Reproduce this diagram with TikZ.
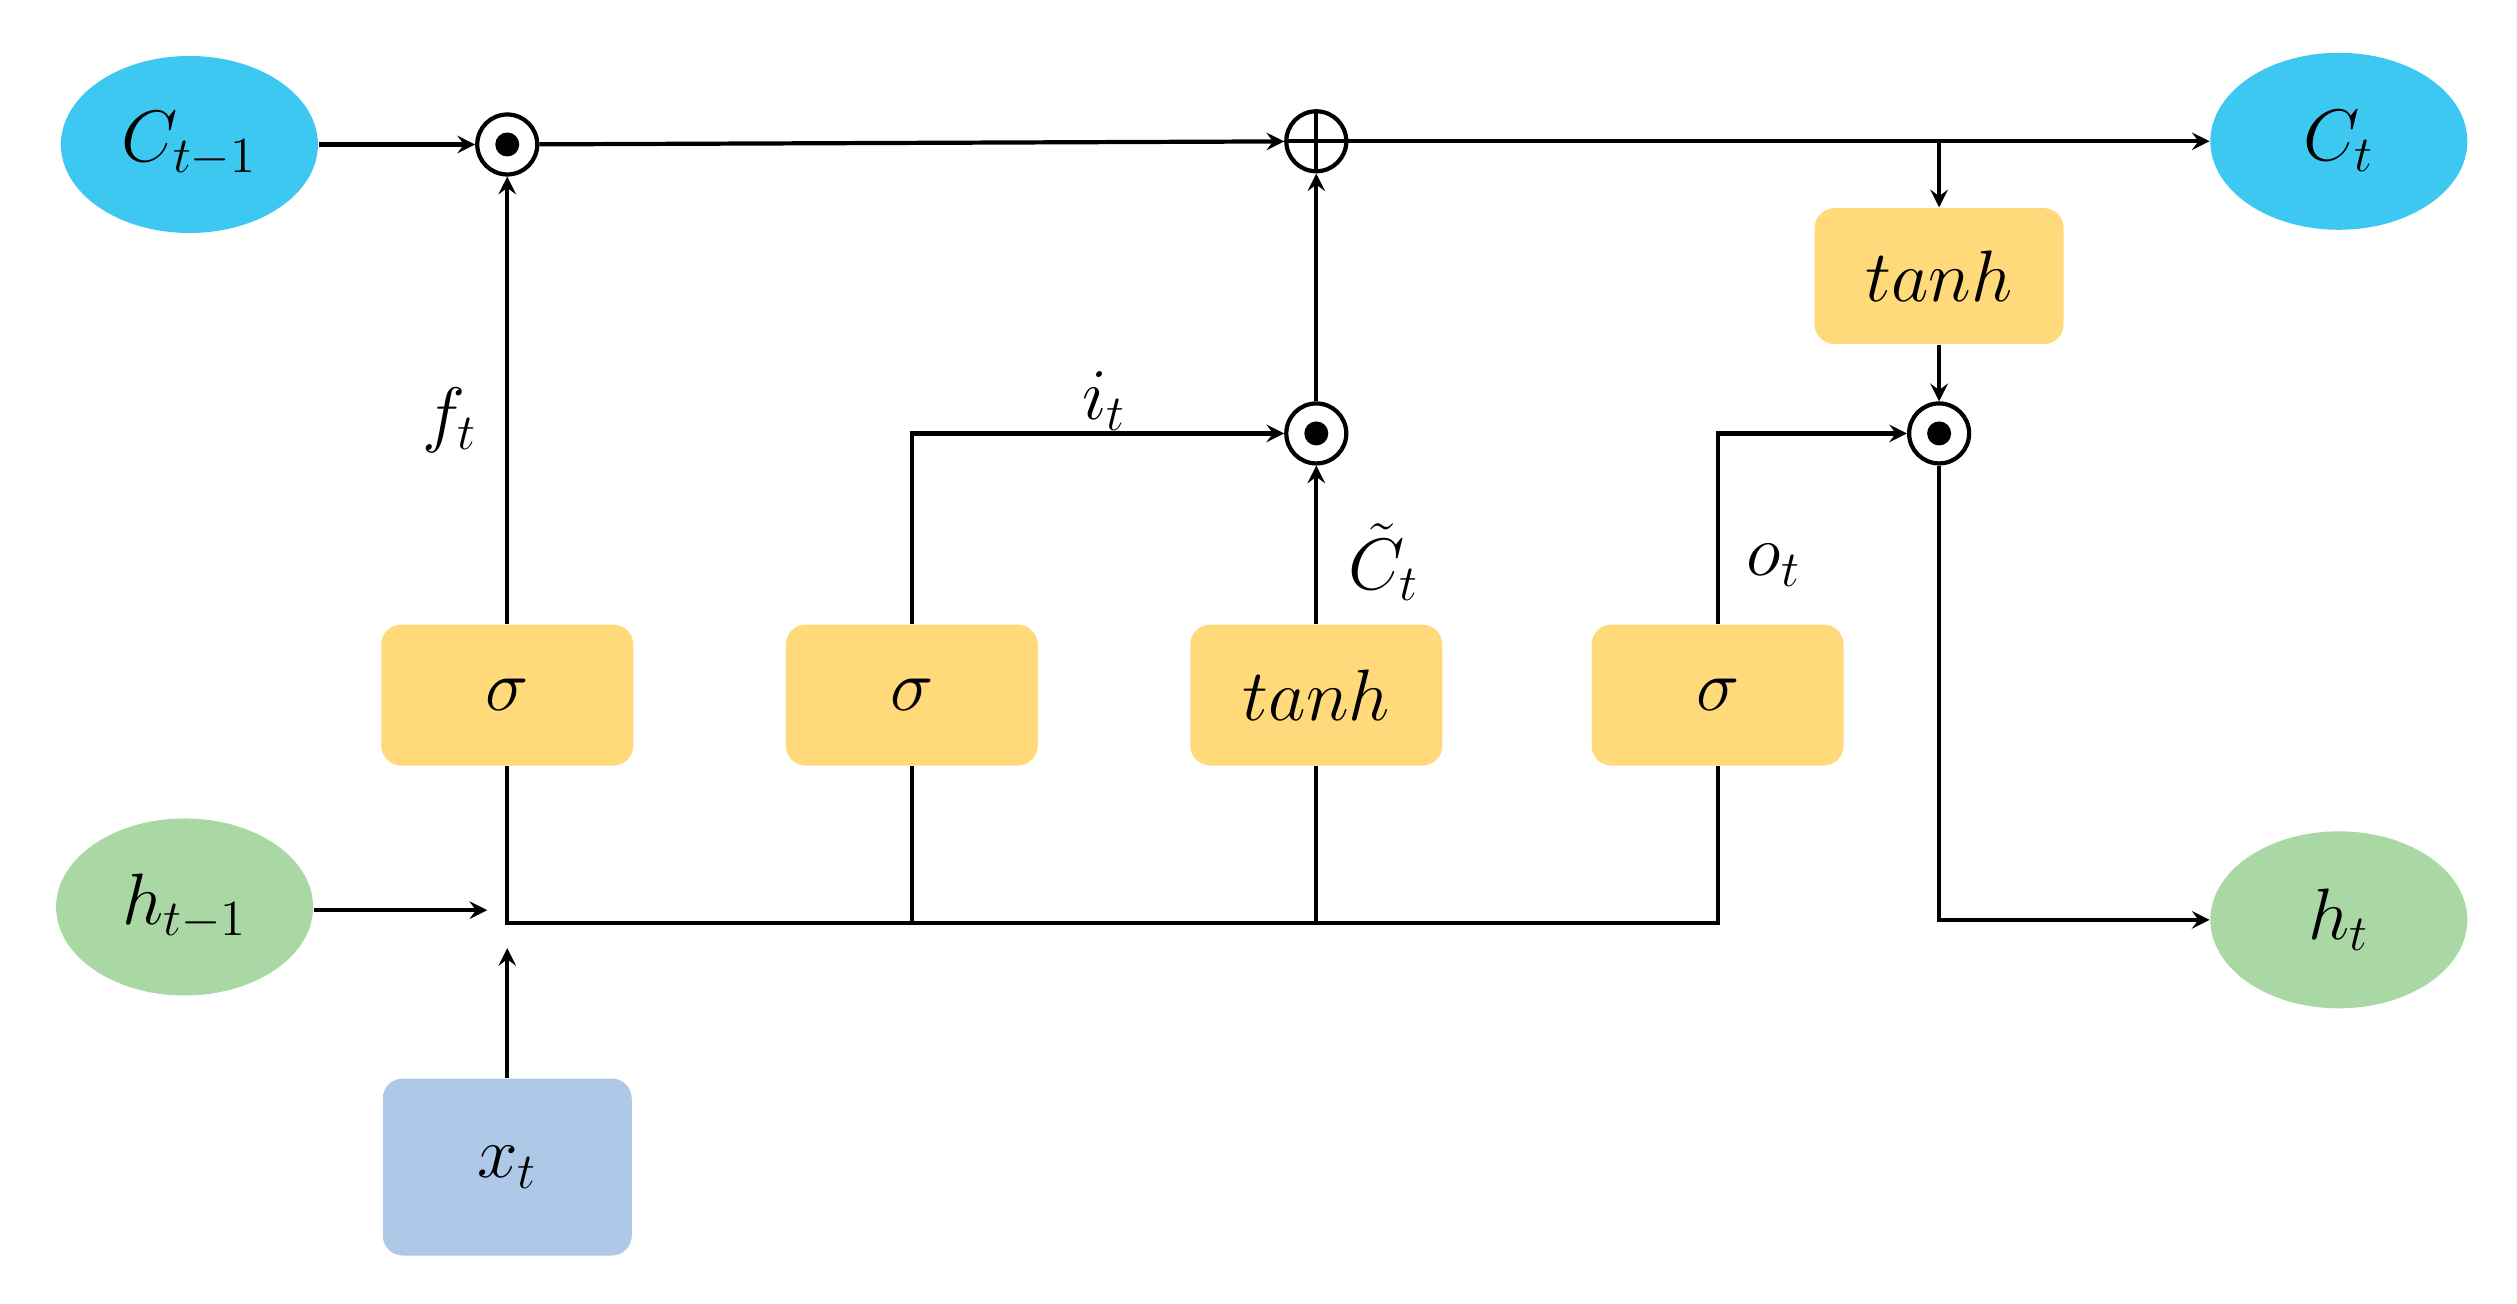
\documentclass[tikz,border=0pt]{standalone}
\usepackage{amsmath}
\usetikzlibrary{shapes.geometric, arrows, positioning}
\definecolor{gatecol}{HTML}{FFD97A}
\definecolor{cellcol}{HTML}{3CC8F0}
\definecolor{hidcol}{HTML}{A9D8A4}
\definecolor{incol}{HTML}{AEC8E8}
\tikzstyle{gate} = [rectangle, rounded corners=0.2cm, minimum width=2.52cm, minimum height=1.41cm, fill=gatecol, font=\fontsize{20}{24}\selectfont]
\tikzstyle{state} = [ellipse, minimum width=2.57cm, minimum height=1.77cm, font=\fontsize{20}{24}\selectfont]
\tikzstyle{mult} = [circle, draw, line width=1.2pt, fill=white, minimum size=0.6cm, inner sep=0pt]
\tikzstyle{add} = [circle, draw, line width=1.2pt, fill=white, minimum size=0.6cm, inner sep=0pt, path picture={\draw (path picture bounding box.north) -- (path picture bounding box.south); \draw (path picture bounding box.west) -- (path picture bounding box.east);}]
\tikzstyle{arrow} = [line width=1.2pt,-stealth]
\tikzstyle{link} = [line width=1.2pt, -]
\tikzstyle{lbl} = [font=\fontsize{20}{24}\selectfont]

\begin{document}
\begin{tikzpicture}[x=0.01605cm, y=-0.01605cm]
    \useasboundingbox (0,0) rectangle (1568,812);
    \node (cprev) [state, fill=cellcol] at (118,90) {$C_{t-1}$};
    \node (cnext) [state, fill=cellcol] at (1457,88) {$C_t$};
    \node (hprev) [state, fill=hidcol] at (115,565) {$h_{t-1}$};
    \node (hnext) [state, fill=hidcol] at (1457,573) {$h_t$};
    \node (xt) [gate, fill=incol, minimum width=2.49cm, minimum height=1.77cm] at (316,727) {$x_t$};
    \node (fg) [gate] at (316,433) {$\sigma$};
    \node (ig) [gate] at (568,433) {$\sigma$};
    \node (cg) [gate] at (820,433) {$tanh$};
    \node (og) [gate] at (1070,433) {$\sigma$};
    \node (th) [gate, minimum width=2.49cm, minimum height=1.36cm] at (1208,172) {$tanh$};
    \node (m1) [mult] at (316,90) {};
    \node (a1) [add] at (820,88) {};
    \node (m2) [mult] at (820,270) {};
    \node (m3) [mult] at (1208,270) {};
    \foreach \m in {m1,m2,m3}
        \fill (\m) circle (0.12cm);
    \coordinate (j) at (316,575);
    \coordinate (jo) at (1070,575);
    \coordinate (tap) at (1208,88);
    % cell state line
    \draw [arrow] (cprev) -- (m1);
    \draw [arrow] (m1) -- (a1);
    \draw [arrow] (a1) -- (cnext);
    \draw [arrow] (tap) -- (th);
    % inputs
    \draw [arrow, shorten >=0.2cm] (hprev.east |- 0,567) -- (j |- 0,567);
    \draw [arrow, shorten >=0.25cm] (xt) -- (j);
    \draw [link] (fg.south) -- (j) -- (jo) -- (og.south);
    \draw [link] (ig.south) -- (ig.south |- j);
    \draw [link] (cg.south) -- (cg.south |- j);
    % gates
    \draw [arrow] (fg) -- (m1);
    \draw [arrow] (ig) |- (m2);
    \draw [arrow] (cg) -- (m2);
    \draw [arrow] (m2) -- (a1);
    \draw [arrow] (og) |- (m3);
    \draw [arrow] (th) -- (m3);
    \draw [arrow] (m3) |- (hnext);
    % labels
    \node [lbl] at (280,262) {$f_t$};
    \node [lbl] at (688,250) {$i_t$};
    \node [lbl] at (862,350) {$\tilde{C}_t$};
    \node [lbl] at (1105,352) {$o_t$};
\end{tikzpicture}
\end{document}
